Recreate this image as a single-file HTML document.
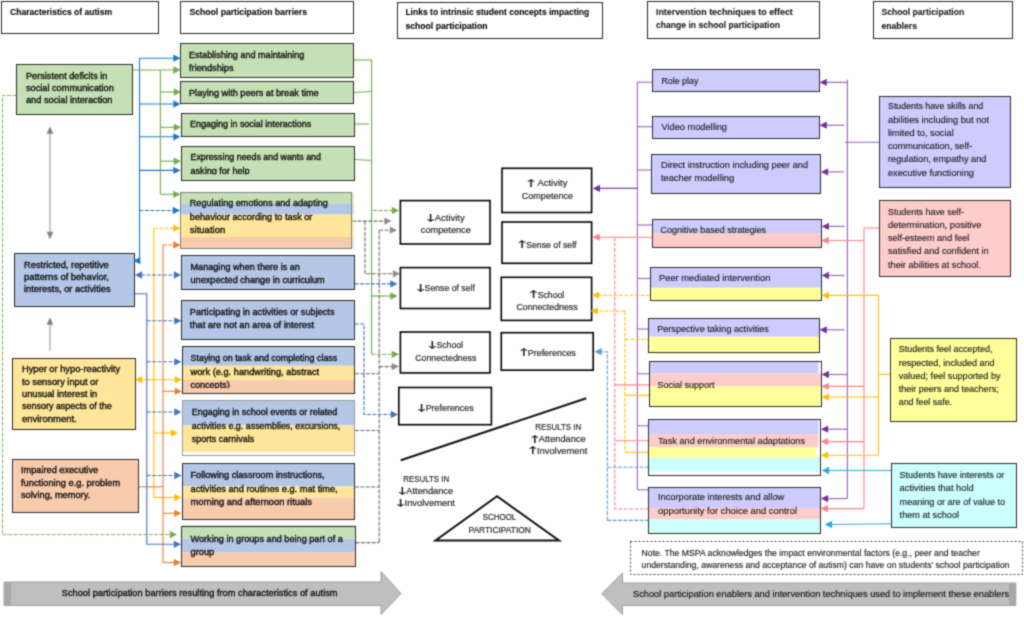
<!DOCTYPE html>
<html lang="en">
<head>
<meta charset="utf-8">
<title>Model of school participation and autism</title>
<style>
html,body{margin:0;padding:0;background:#fff;}
body{width:1024px;height:617px;overflow:hidden;}
svg{display:block;font-family:"Liberation Sans", "DejaVu Sans", sans-serif;}
svg text{white-space:pre;}
</style>
</head>
<body>
<svg width="1024" height="617" viewBox="0 0 1024 617">
<defs>
<filter id="soft" x="0" y="0" width="1024" height="617" filterUnits="userSpaceOnUse" color-interpolation-filters="sRGB">
<feConvolveMatrix order="3" kernelMatrix="0.04 0.11 0.04 0.11 0.40 0.11 0.04 0.11 0.04" divisor="1" edgeMode="duplicate" preserveAlpha="true"/>
</filter>
</defs>
<g filter="url(#soft)">
<rect x="0" y="0" width="1024" height="617" fill="#ffffff"/>
<rect x="1.50" y="1.50" width="157.00" height="32.00" fill="#fff" stroke="#262626" stroke-width="1"/>
<text x="10.00" y="15.00" font-size="9.0" font-weight="bold" textLength="102.0" lengthAdjust="spacingAndGlyphs" fill="#0a0a0a" stroke="#0a0a0a" stroke-width="0.12">Characteristics of autism</text>
<rect x="180.50" y="1.50" width="173.00" height="32.00" fill="#fff" stroke="#262626" stroke-width="1"/>
<text x="189.50" y="15.00" font-size="9.0" font-weight="bold" textLength="117.5" lengthAdjust="spacingAndGlyphs" fill="#0a0a0a" stroke="#0a0a0a" stroke-width="0.12">School participation barriers</text>
<rect x="397.50" y="2.50" width="205.00" height="36.00" fill="#fff" stroke="#262626" stroke-width="1"/>
<text x="405.40" y="15.40" font-size="9.0" font-weight="bold" textLength="183.9" lengthAdjust="spacingAndGlyphs" fill="#0a0a0a" stroke="#0a0a0a" stroke-width="0.12">Links to intrinsic student concepts impacting</text>
<text x="405.40" y="29.00" font-size="9.0" font-weight="bold" textLength="82.2" lengthAdjust="spacingAndGlyphs" fill="#0a0a0a" stroke="#0a0a0a" stroke-width="0.12">school participation</text>
<rect x="647.50" y="1.50" width="172.00" height="37.00" fill="#fff" stroke="#262626" stroke-width="1"/>
<text x="656.00" y="14.60" font-size="9.0" font-weight="bold" textLength="136.8" lengthAdjust="spacingAndGlyphs" fill="#1c1c1c" stroke="#1c1c1c" stroke-width="0.12">Intervention techniques to effect</text>
<text x="656.00" y="28.40" font-size="9.0" font-weight="bold" textLength="124.0" lengthAdjust="spacingAndGlyphs" fill="#1c1c1c" stroke="#1c1c1c" stroke-width="0.12">change in school participation</text>
<rect x="873.50" y="1.50" width="139.00" height="37.00" fill="#fff" stroke="#262626" stroke-width="1"/>
<text x="881.40" y="15.20" font-size="9.0" font-weight="bold" textLength="82.9" lengthAdjust="spacingAndGlyphs" fill="#1c1c1c" stroke="#1c1c1c" stroke-width="0.12">School participation</text>
<text x="881.40" y="29.20" font-size="9.0" font-weight="bold" textLength="35.6" lengthAdjust="spacingAndGlyphs" fill="#1c1c1c" stroke="#1c1c1c" stroke-width="0.12">enablers</text>
<polyline points="16.50,95.50 2.50,95.50 2.50,534.60 170.80,534.60" fill="none" stroke="#70AD47" stroke-width="0.9" stroke-dasharray="4 1.4"/>
<polygon points="177.00,534.60 169.80,530.95 169.80,538.25" fill="#70AD47"/>
<polyline points="139.50,58.20 139.50,259.00" fill="none" stroke="#1F78C8" stroke-width="1.12"/>
<polyline points="139.50,58.20 174.30,58.20" fill="none" stroke="#1F78C8" stroke-width="1.12"/>
<polygon points="180.50,58.20 173.30,54.55 173.30,61.85" fill="#1F78C8"/>
<polyline points="139.50,104.00 174.30,104.00" fill="none" stroke="#1F78C8" stroke-width="1.12"/>
<polygon points="180.50,104.00 173.30,100.35 173.30,107.65" fill="#1F78C8"/>
<polyline points="139.50,136.80 174.30,136.80" fill="none" stroke="#1F78C8" stroke-width="1.12"/>
<polygon points="180.50,136.80 173.30,133.15 173.30,140.45" fill="#1F78C8"/>
<polyline points="139.50,170.40 174.30,170.40" fill="none" stroke="#1F78C8" stroke-width="1.12"/>
<polygon points="180.50,170.40 173.30,166.75 173.30,174.05" fill="#1F78C8"/>
<polyline points="139.50,210.50 173.80,210.50" fill="none" stroke="#1F78C8" stroke-width="1.1" stroke-dasharray="4 1.4"/>
<polygon points="180.00,210.50 172.80,206.85 172.80,214.15" fill="#1F78C8"/>
<polyline points="132.60,70.00 174.30,70.00" fill="none" stroke="#70AD47" stroke-width="1.12"/>
<polygon points="180.50,70.00 173.30,66.35 173.30,73.65" fill="#70AD47"/>
<polyline points="160.40,70.00 160.40,194.30" fill="none" stroke="#70AD47" stroke-width="1.12"/>
<polyline points="160.40,92.00 174.80,92.00" fill="none" stroke="#70AD47" stroke-width="1.12"/>
<polygon points="181.00,92.00 173.80,88.35 173.80,95.65" fill="#70AD47"/>
<polyline points="160.40,127.30 174.80,127.30" fill="none" stroke="#70AD47" stroke-width="1.12"/>
<polygon points="181.00,127.30 173.80,123.65 173.80,130.95" fill="#70AD47"/>
<polyline points="160.40,161.20 174.80,161.20" fill="none" stroke="#70AD47" stroke-width="1.12"/>
<polygon points="181.00,161.20 173.80,157.55 173.80,164.85" fill="#70AD47"/>
<polyline points="160.40,194.30 174.30,194.30" fill="none" stroke="#70AD47" stroke-width="1.12"/>
<polygon points="180.50,194.30 173.30,190.65 173.30,197.95" fill="#70AD47"/>
<polyline points="153.80,228.20 153.80,497.50" fill="none" stroke="#FFC000" stroke-width="1.12"/>
<polyline points="153.80,228.20 174.30,228.20" fill="none" stroke="#FFC000" stroke-width="1.1" stroke-dasharray="4 1.4"/>
<polygon points="180.50,228.20 173.30,224.55 173.30,231.85" fill="#FFC000"/>
<polygon points="135.00,379.70 142.20,376.05 142.20,383.35" fill="#FFC000"/>
<polyline points="141.20,379.70 175.80,379.70" fill="none" stroke="#FFC000" stroke-width="1.12"/>
<polygon points="182.00,379.70 174.80,376.05 174.80,383.35" fill="#FFC000"/>
<polyline points="153.80,433.00 171.80,433.00" fill="none" stroke="#FFC000" stroke-width="1.12"/>
<polygon points="178.00,433.00 170.80,429.35 170.80,436.65" fill="#FFC000"/>
<polyline points="153.80,497.50 175.30,497.50" fill="none" stroke="#FFC000" stroke-width="1.12"/>
<polygon points="181.50,497.50 174.30,493.85 174.30,501.15" fill="#FFC000"/>
<polyline points="163.00,245.00 163.00,562.50" fill="none" stroke="#ED7D31" stroke-width="1.12"/>
<polyline points="163.00,245.00 174.30,245.00" fill="none" stroke="#ED7D31" stroke-width="1.1" stroke-dasharray="4 1.4"/>
<polygon points="180.50,245.00 173.30,241.35 173.30,248.65" fill="#ED7D31"/>
<polyline points="163.00,391.30 175.80,391.30" fill="none" stroke="#ED7D31" stroke-width="1.12"/>
<polygon points="182.00,391.30 174.80,387.65 174.80,394.95" fill="#ED7D31"/>
<polyline points="163.00,513.30 175.30,513.30" fill="none" stroke="#ED7D31" stroke-width="1.12"/>
<polygon points="181.50,513.30 174.30,509.65 174.30,516.95" fill="#ED7D31"/>
<polyline points="163.00,562.50 174.80,562.50" fill="none" stroke="#ED7D31" stroke-width="1.12"/>
<polygon points="181.00,562.50 173.80,558.85 173.80,566.15" fill="#ED7D31"/>
<polyline points="138.70,486.80 163.00,486.80" fill="none" stroke="#ED7D31" stroke-width="1.12"/>
<polyline points="134.80,293.80 146.80,293.80 146.80,544.30 174.80,544.30" fill="none" stroke="#4472C4" stroke-width="1.12"/>
<polygon points="181.00,544.30 173.80,540.65 173.80,547.95" fill="#4472C4"/>
<polyline points="146.80,320.80 175.30,320.80" fill="none" stroke="#4472C4" stroke-width="1.1" stroke-dasharray="4 1.4"/>
<polygon points="181.50,320.80 174.30,317.15 174.30,324.45" fill="#4472C4"/>
<polyline points="146.80,361.80 175.30,361.80" fill="none" stroke="#4472C4" stroke-width="1.1" stroke-dasharray="4 1.4"/>
<polygon points="181.50,361.80 174.30,358.15 174.30,365.45" fill="#4472C4"/>
<polyline points="146.80,412.00 175.30,412.00" fill="none" stroke="#4472C4" stroke-width="1.1" stroke-dasharray="4 1.4"/>
<polygon points="181.50,412.00 174.30,408.35 174.30,415.65" fill="#4472C4"/>
<polyline points="146.80,475.50 175.30,475.50" fill="none" stroke="#4472C4" stroke-width="1.1" stroke-dasharray="4 1.4"/>
<polygon points="181.50,475.50 174.30,471.85 174.30,479.15" fill="#4472C4"/>
<polygon points="135.00,275.00 142.20,271.35 142.20,278.65" fill="#4472C4"/>
<polyline points="141.20,275.00 174.80,275.00" fill="none" stroke="#4472C4" stroke-width="1.1" stroke-dasharray="4 1.4"/>
<polygon points="181.00,275.00 173.80,271.35 173.80,278.65" fill="#4472C4"/>
<polygon points="50.00,239.30 46.70,231.80 53.30,231.80" fill="#808080"/>
<polyline points="50.00,232.80 50.00,132.70" fill="none" stroke="#9a9a9a" stroke-width="1.1"/>
<polygon points="50.00,126.20 46.70,133.70 53.30,133.70" fill="#808080"/>
<polyline points="50.00,350.70 50.00,323.80" fill="none" stroke="#9a9a9a" stroke-width="1.1"/>
<polygon points="50.00,317.30 46.70,324.80 53.30,324.80" fill="#808080"/>
<polyline points="371.60,60.00 371.60,354.30" fill="none" stroke="#70AD47" stroke-width="1.12"/>
<polyline points="353.70,60.00 371.60,60.00" fill="none" stroke="#70AD47" stroke-width="1.12"/>
<polyline points="353.70,92.50 371.60,91.50" fill="none" stroke="#70AD47" stroke-width="1.12"/>
<polyline points="354.70,124.00 369.00,124.00" fill="none" stroke="#70AD47" stroke-width="1.12"/>
<polyline points="354.70,159.50 371.60,160.50" fill="none" stroke="#70AD47" stroke-width="1.12"/>
<polyline points="373.00,210.50 392.80,210.50" fill="none" stroke="#70AD47" stroke-width="1.1" stroke-dasharray="4 1.4"/>
<polygon points="399.00,210.50 391.80,206.85 391.80,214.15" fill="#70AD47"/>
<polyline points="371.60,296.00 391.30,296.00" fill="none" stroke="#70AD47" stroke-width="1.12"/>
<polygon points="397.50,296.00 390.30,292.35 390.30,299.65" fill="#70AD47"/>
<polyline points="371.60,354.30 392.80,354.30" fill="none" stroke="#70AD47" stroke-width="1.1" stroke-dasharray="4 1.4"/>
<polygon points="399.00,354.30 391.80,350.65 391.80,357.95" fill="#70AD47"/>
<polyline points="352.00,221.10 385.30,221.10" fill="none" stroke="#6a6a6a" stroke-width="1.1" stroke-dasharray="4 1.4"/>
<polygon points="391.50,221.10 384.30,217.45 384.30,224.75" fill="#8c8c8c"/>
<polyline points="365.00,221.10 365.00,273.80 393.80,273.80" fill="none" stroke="#6a6a6a" stroke-width="1.1" stroke-dasharray="4 1.4"/>
<polygon points="400.00,273.80 392.80,270.15 392.80,277.45" fill="#8c8c8c"/>
<polyline points="379.20,230.20 379.20,542.60" fill="none" stroke="#6a6a6a" stroke-width="1.1" stroke-dasharray="4 1.4"/>
<polyline points="379.20,230.20 390.80,230.20" fill="none" stroke="#6a6a6a" stroke-width="1.1" stroke-dasharray="4 1.4"/>
<polygon points="397.00,230.20 389.80,226.55 389.80,233.85" fill="#8c8c8c"/>
<polyline points="379.20,366.60 392.80,366.60" fill="none" stroke="#6a6a6a" stroke-width="1.1" stroke-dasharray="4 1.4"/>
<polygon points="399.00,366.60 391.80,362.95 391.80,370.25" fill="#8c8c8c"/>
<polyline points="355.00,373.70 379.20,373.70" fill="none" stroke="#6a6a6a" stroke-width="1.1" stroke-dasharray="4 1.4"/>
<polyline points="355.00,430.50 379.20,430.50" fill="none" stroke="#6a6a6a" stroke-width="1.1" stroke-dasharray="4 1.4"/>
<polyline points="355.00,487.00 379.20,487.00" fill="none" stroke="#6a6a6a" stroke-width="1.1" stroke-dasharray="4 1.4"/>
<polyline points="355.50,542.60 379.20,542.60" fill="none" stroke="#6a6a6a" stroke-width="1.1" stroke-dasharray="4 1.4"/>
<polyline points="354.70,283.90 391.30,283.90" fill="none" stroke="#4472C4" stroke-width="1.1" stroke-dasharray="4 1.4"/>
<polygon points="397.50,283.90 390.30,280.25 390.30,287.55" fill="#4472C4"/>
<polyline points="354.70,324.00 364.00,324.00 364.00,414.50 391.80,414.50" fill="none" stroke="#4472C4" stroke-width="1.1" stroke-dasharray="4 1.4"/>
<polygon points="398.00,414.50 390.80,410.85 390.80,418.15" fill="#4472C4"/>
<rect x="16.50" y="64.50" width="116.00" height="50.00" fill="#C5E0B4" stroke="#2b2b2b" stroke-width="1"/>
<text x="26.00" y="78.50" font-size="9.0" textLength="81.4" lengthAdjust="spacingAndGlyphs" fill="#0a0a0a" stroke="#0a0a0a" stroke-width="0.32">Persistent deficits in</text>
<text x="26.00" y="91.20" font-size="9.0" textLength="87.8" lengthAdjust="spacingAndGlyphs" fill="#0a0a0a" stroke="#0a0a0a" stroke-width="0.32">social communication</text>
<text x="26.00" y="102.90" font-size="9.0" textLength="86.5" lengthAdjust="spacingAndGlyphs" fill="#0a0a0a" stroke="#0a0a0a" stroke-width="0.32">and social interaction</text>
<rect x="14.50" y="253.50" width="120.00" height="53.00" fill="#B4C7E7" stroke="#2b2b2b" stroke-width="1"/>
<text x="24.00" y="267.60" font-size="9.0" textLength="84.8" lengthAdjust="spacingAndGlyphs" fill="#0a0a0a" stroke="#0a0a0a" stroke-width="0.32">Restricted, repetitive</text>
<text x="24.00" y="279.70" font-size="9.0" textLength="84.9" lengthAdjust="spacingAndGlyphs" fill="#0a0a0a" stroke="#0a0a0a" stroke-width="0.32">patterns of behavior,</text>
<text x="24.00" y="291.50" font-size="9.0" textLength="86.6" lengthAdjust="spacingAndGlyphs" fill="#0a0a0a" stroke="#0a0a0a" stroke-width="0.32">interests, or activities</text>
<rect x="12.50" y="358.50" width="123.00" height="71.00" fill="#FFE699" stroke="#2b2b2b" stroke-width="1"/>
<text x="22.00" y="372.20" font-size="9.0" textLength="98.1" lengthAdjust="spacingAndGlyphs" fill="#0a0a0a" stroke="#0a0a0a" stroke-width="0.32">Hyper or hypo-reactivity</text>
<text x="22.00" y="384.80" font-size="9.0" textLength="76.3" lengthAdjust="spacingAndGlyphs" fill="#0a0a0a" stroke="#0a0a0a" stroke-width="0.32">to sensory input or</text>
<text x="22.00" y="396.60" font-size="9.0" textLength="75.1" lengthAdjust="spacingAndGlyphs" fill="#0a0a0a" stroke="#0a0a0a" stroke-width="0.32">unusual interest in</text>
<text x="22.00" y="408.70" font-size="9.0" textLength="89.7" lengthAdjust="spacingAndGlyphs" fill="#0a0a0a" stroke="#0a0a0a" stroke-width="0.32">sensory aspects of the</text>
<text x="22.00" y="421.50" font-size="9.0" textLength="54.7" lengthAdjust="spacingAndGlyphs" fill="#0a0a0a" stroke="#0a0a0a" stroke-width="0.32">environment.</text>
<rect x="12.50" y="459.50" width="126.00" height="53.00" fill="#F8CBAD" stroke="#2b2b2b" stroke-width="1"/>
<text x="21.00" y="473.40" font-size="9.0" textLength="77.1" lengthAdjust="spacingAndGlyphs" fill="#0a0a0a" stroke="#0a0a0a" stroke-width="0.32">Impaired executive</text>
<text x="21.00" y="485.60" font-size="9.0" textLength="99.2" lengthAdjust="spacingAndGlyphs" fill="#0a0a0a" stroke="#0a0a0a" stroke-width="0.32">functioning e.g. problem</text>
<text x="21.00" y="497.70" font-size="9.0" textLength="69.2" lengthAdjust="spacingAndGlyphs" fill="#0a0a0a" stroke="#0a0a0a" stroke-width="0.32">solving, memory.</text>
<polygon points="133.20,260.70 140.40,257.05 140.40,264.35" fill="#1F78C8"/>
<rect x="180.50" y="43.50" width="173.00" height="34.00" fill="#C5E0B4" stroke="#2b2b2b" stroke-width="1"/>
<text x="189.00" y="57.50" font-size="9.0" textLength="115.4" lengthAdjust="spacingAndGlyphs" fill="#0a0a0a" stroke="#0a0a0a" stroke-width="0.32">Establishing and maintaining</text>
<text x="189.00" y="70.70" font-size="9.0" textLength="44.6" lengthAdjust="spacingAndGlyphs" fill="#0a0a0a" stroke="#0a0a0a" stroke-width="0.32">friendships</text>
<rect x="180.50" y="81.50" width="173.00" height="22.00" fill="#C5E0B4" stroke="#2b2b2b" stroke-width="1"/>
<text x="189.00" y="96.00" font-size="9.0" textLength="129.7" lengthAdjust="spacingAndGlyphs" fill="#0a0a0a" stroke="#0a0a0a" stroke-width="0.32">Playing with peers at break time</text>
<rect x="181.50" y="113.50" width="173.00" height="23.00" fill="#C5E0B4" stroke="#2b2b2b" stroke-width="1"/>
<text x="190.00" y="127.40" font-size="9.0" textLength="121.2" lengthAdjust="spacingAndGlyphs" fill="#0a0a0a" stroke="#0a0a0a" stroke-width="0.32">Engaging in social interactions</text>
<rect x="181.50" y="146.50" width="173.00" height="34.00" fill="#C5E0B4" stroke="#2b2b2b" stroke-width="1"/>
<text x="190.50" y="160.20" font-size="9.0" textLength="130.4" lengthAdjust="spacingAndGlyphs" fill="#0a0a0a" stroke="#0a0a0a" stroke-width="0.32">Expressing needs and wants and</text>
<clipPath id="c2"><rect x="185" y="162" width="160" height="12.4"/></clipPath><g clip-path="url(#c2)">
<text x="190.50" y="173.50" font-size="9.0" textLength="59.1" lengthAdjust="spacingAndGlyphs" fill="#0a0a0a" stroke="#0a0a0a" stroke-width="0.32">asking for help</text>
</g>
<g opacity="0.55">
<rect x="351.80" y="192.60" width="2.40" height="11.40" fill="#C5E0B4"/>
<rect x="351.80" y="204.00" width="2.40" height="10.60" fill="#B4C7E7"/>
<rect x="351.80" y="214.60" width="2.40" height="22.40" fill="#FFE699"/>
<rect x="351.80" y="237.00" width="2.40" height="11.60" fill="#F8CBAD"/>
</g>
<rect x="180.50" y="192.00" width="171.30" height="12.00" fill="#C5E0B4"/>
<rect x="180.50" y="204.00" width="171.30" height="10.60" fill="#B4C7E7"/>
<rect x="180.50" y="214.60" width="171.30" height="22.40" fill="#FFE699"/>
<rect x="180.50" y="237.00" width="171.30" height="11.30" fill="#F8CBAD"/>
<rect x="180.50" y="192.50" width="171.00" height="56.00" fill="none" stroke="#808080" stroke-width="1"/>
<text x="189.80" y="206.00" font-size="9.0" textLength="138.0" lengthAdjust="spacingAndGlyphs" fill="#0a0a0a" stroke="#0a0a0a" stroke-width="0.32">Regulating emotions and adapting</text>
<text x="189.80" y="219.70" font-size="9.0" textLength="122.6" lengthAdjust="spacingAndGlyphs" fill="#0a0a0a" stroke="#0a0a0a" stroke-width="0.32">behaviour according to task or</text>
<text x="189.80" y="233.20" font-size="9.0" textLength="35.5" lengthAdjust="spacingAndGlyphs" fill="#0a0a0a" stroke="#0a0a0a" stroke-width="0.32">situation</text>
<rect x="181.50" y="255.50" width="173.00" height="34.00" fill="#B4C7E7" stroke="#2b2b2b" stroke-width="1"/>
<text x="190.50" y="269.70" font-size="9.0" textLength="109.4" lengthAdjust="spacingAndGlyphs" fill="#0a0a0a" stroke="#0a0a0a" stroke-width="0.32">Managing when there is an</text>
<text x="190.50" y="283.00" font-size="9.0" textLength="134.1" lengthAdjust="spacingAndGlyphs" fill="#0a0a0a" stroke="#0a0a0a" stroke-width="0.32">unexpected change in curriculum</text>
<rect x="181.50" y="300.50" width="173.00" height="39.00" fill="#B4C7E7" stroke="#2b2b2b" stroke-width="1"/>
<text x="189.80" y="314.70" font-size="9.0" textLength="144.7" lengthAdjust="spacingAndGlyphs" fill="#0a0a0a" stroke="#0a0a0a" stroke-width="0.32">Participating in activities or subjects</text>
<text x="189.80" y="328.20" font-size="9.0" textLength="124.4" lengthAdjust="spacingAndGlyphs" fill="#0a0a0a" stroke="#0a0a0a" stroke-width="0.32">that are not an area of interest</text>
<rect x="182.30" y="346.80" width="172.40" height="19.00" fill="#B4C7E7"/>
<rect x="182.30" y="365.80" width="172.40" height="14.20" fill="#FFE699"/>
<rect x="182.30" y="380.00" width="172.40" height="13.00" fill="#F8CBAD"/>
<rect x="182.50" y="346.50" width="172.00" height="47.00" fill="none" stroke="#2b2b2b" stroke-width="1"/>
<text x="190.50" y="361.20" font-size="9.0" textLength="146.8" lengthAdjust="spacingAndGlyphs" fill="#0a0a0a" stroke="#0a0a0a" stroke-width="0.32">Staying on task and completing class</text>
<text x="190.50" y="374.70" font-size="9.0" textLength="128.7" lengthAdjust="spacingAndGlyphs" fill="#0a0a0a" stroke="#0a0a0a" stroke-width="0.32">work (e.g. handwriting, abstract</text>
<clipPath id="c1"><rect x="185" y="376" width="160" height="12.3"/></clipPath><g clip-path="url(#c1)">
<text x="190.50" y="388.20" font-size="9.0" textLength="39.2" lengthAdjust="spacingAndGlyphs" fill="#0a0a0a" stroke="#0a0a0a" stroke-width="0.32">concepts)</text>
</g>
<rect x="182.30" y="400.50" width="172.40" height="25.00" fill="#B4C7E7"/>
<rect x="182.30" y="425.50" width="172.40" height="26.70" fill="#FFE699"/>
<rect x="182.30" y="452.20" width="172.40" height="3.10" fill="#ffffff"/>
<rect x="182.50" y="400.50" width="172.00" height="55.00" fill="none" stroke="#9a9a9a" stroke-width="1"/>
<text x="191.80" y="415.00" font-size="9.0" textLength="145.4" lengthAdjust="spacingAndGlyphs" fill="#0a0a0a" stroke="#0a0a0a" stroke-width="0.32">Engaging in school events or related</text>
<text x="191.80" y="428.50" font-size="9.0" textLength="148.5" lengthAdjust="spacingAndGlyphs" fill="#0a0a0a" stroke="#0a0a0a" stroke-width="0.32">activities e.g. assemblies, excursions,</text>
<text x="191.80" y="441.70" font-size="9.0" textLength="62.5" lengthAdjust="spacingAndGlyphs" fill="#0a0a0a" stroke="#0a0a0a" stroke-width="0.32">sports carnivals</text>
<rect x="182.30" y="463.80" width="172.40" height="22.70" fill="#B4C7E7"/>
<rect x="182.30" y="486.50" width="172.40" height="11.00" fill="#FFE699"/>
<rect x="182.30" y="497.50" width="172.40" height="22.00" fill="#F8CBAD"/>
<rect x="182.50" y="463.50" width="172.00" height="56.00" fill="none" stroke="#2b2b2b" stroke-width="1"/>
<text x="190.50" y="478.20" font-size="9.0" textLength="134.1" lengthAdjust="spacingAndGlyphs" fill="#0a0a0a" stroke="#0a0a0a" stroke-width="0.32">Following classroom instructions,</text>
<text x="190.50" y="491.50" font-size="9.0" textLength="147.2" lengthAdjust="spacingAndGlyphs" fill="#0a0a0a" stroke="#0a0a0a" stroke-width="0.32">activities and routines e.g. mat time,</text>
<text x="190.50" y="504.70" font-size="9.0" textLength="121.4" lengthAdjust="spacingAndGlyphs" fill="#0a0a0a" stroke="#0a0a0a" stroke-width="0.32">morning and afternoon rituals</text>
<rect x="182" y="525.4" width="173.5" height="2" fill="#C5E0B4"/>
<rect x="181.30" y="526.80" width="174.20" height="11.80" fill="#C5E0B4"/>
<rect x="181.30" y="538.60" width="174.20" height="13.90" fill="#B4C7E7"/>
<rect x="181.30" y="552.50" width="174.20" height="14.00" fill="#F8CBAD"/>
<rect x="181.50" y="526.50" width="174.00" height="40.00" fill="none" stroke="#2b2b2b" stroke-width="1"/>
<text x="190.50" y="541.50" font-size="9.0" textLength="152.3" lengthAdjust="spacingAndGlyphs" fill="#0a0a0a" stroke="#0a0a0a" stroke-width="0.32">Working in groups and being part of a</text>
<text x="190.50" y="554.70" font-size="9.0" textLength="23.8" lengthAdjust="spacingAndGlyphs" fill="#0a0a0a" stroke="#0a0a0a" stroke-width="0.32">group</text>
<rect x="400.40" y="200.60" width="89.60" height="43.40" fill="#fff" stroke="#000" stroke-width="1.6"/>
<g transform="translate(427.03,221.00) scale(1.75,1)"><text x="-2.26" y="0" font-size="8.7" font-weight="bold" font-family="'Noto Sans CJK SC', 'DejaVu Sans', sans-serif" fill="#1a1a1a">↓</text></g>
<text x="434.73" y="220.70" font-size="9.0" textLength="30.0" lengthAdjust="spacingAndGlyphs" fill="#2a2a2a" stroke="#2a2a2a" stroke-width="0.2">Activity</text>
<text x="420.80" y="233.20" font-size="9.0" textLength="50.0" lengthAdjust="spacingAndGlyphs" fill="#2a2a2a" stroke="#2a2a2a" stroke-width="0.2">competence</text>
<rect x="400.40" y="267.60" width="89.60" height="40.90" fill="#fff" stroke="#000" stroke-width="1.6"/>
<g transform="translate(416.91,291.00) scale(1.75,1)"><text x="-2.26" y="0" font-size="8.7" font-weight="bold" font-family="'Noto Sans CJK SC', 'DejaVu Sans', sans-serif" fill="#1a1a1a">↓</text></g>
<text x="424.61" y="290.70" font-size="9.0" textLength="50.3" lengthAdjust="spacingAndGlyphs" fill="#2a2a2a" stroke="#2a2a2a" stroke-width="0.2">Sense of self</text>
<rect x="400.40" y="332.00" width="89.60" height="40.90" fill="#fff" stroke="#000" stroke-width="1.6"/>
<g transform="translate(428.73,348.00) scale(1.75,1)"><text x="-2.26" y="0" font-size="8.7" font-weight="bold" font-family="'Noto Sans CJK SC', 'DejaVu Sans', sans-serif" fill="#1a1a1a">↓</text></g>
<text x="436.43" y="347.70" font-size="9.0" textLength="26.6" lengthAdjust="spacingAndGlyphs" fill="#2a2a2a" stroke="#2a2a2a" stroke-width="0.2">School</text>
<text x="415.14" y="360.70" font-size="9.0" textLength="61.3" lengthAdjust="spacingAndGlyphs" fill="#2a2a2a" stroke="#2a2a2a" stroke-width="0.2">Connectedness</text>
<rect x="398.80" y="387.50" width="92.60" height="37.20" fill="#fff" stroke="#000" stroke-width="1.6"/>
<g transform="translate(417.95,411.20) scale(1.75,1)"><text x="-2.26" y="0" font-size="8.7" font-weight="bold" font-family="'Noto Sans CJK SC', 'DejaVu Sans', sans-serif" fill="#1a1a1a">↓</text></g>
<text x="425.65" y="410.90" font-size="9.0" textLength="48.0" lengthAdjust="spacingAndGlyphs" fill="#2a2a2a" stroke="#2a2a2a" stroke-width="0.2">Preferences</text>
<rect x="502.00" y="168.30" width="89.60" height="44.20" fill="#fff" stroke="#000" stroke-width="1.6"/>
<g transform="translate(527.51,186.50) scale(1.75,1)"><text x="-2.26" y="0" font-size="8.7" font-weight="bold" font-family="'Noto Sans CJK SC', 'DejaVu Sans', sans-serif" fill="#1a1a1a">↑</text></g>
<text x="537.45" y="186.20" font-size="9.0" textLength="30.0" lengthAdjust="spacingAndGlyphs" fill="#2a2a2a" stroke="#2a2a2a" stroke-width="0.2">Activity</text>
<text x="521.85" y="198.50" font-size="9.0" textLength="51.1" lengthAdjust="spacingAndGlyphs" fill="#2a2a2a" stroke="#2a2a2a" stroke-width="0.2">Competence</text>
<rect x="502.00" y="222.00" width="89.60" height="41.30" fill="#fff" stroke="#000" stroke-width="1.6"/>
<g transform="translate(518.51,247.80) scale(1.75,1)"><text x="-2.26" y="0" font-size="8.7" font-weight="bold" font-family="'Noto Sans CJK SC', 'DejaVu Sans', sans-serif" fill="#1a1a1a">↑</text></g>
<text x="526.21" y="247.50" font-size="9.0" textLength="50.3" lengthAdjust="spacingAndGlyphs" fill="#2a2a2a" stroke="#2a2a2a" stroke-width="0.2">Sense of self</text>
<rect x="501.30" y="277.30" width="90.30" height="43.10" fill="#fff" stroke="#000" stroke-width="1.6"/>
<g transform="translate(529.98,297.80) scale(1.75,1)"><text x="-2.26" y="0" font-size="8.7" font-weight="bold" font-family="'Noto Sans CJK SC', 'DejaVu Sans', sans-serif" fill="#1a1a1a">↑</text></g>
<text x="537.68" y="297.50" font-size="9.0" textLength="26.6" lengthAdjust="spacingAndGlyphs" fill="#2a2a2a" stroke="#2a2a2a" stroke-width="0.2">School</text>
<text x="516.39" y="309.90" font-size="9.0" textLength="61.3" lengthAdjust="spacingAndGlyphs" fill="#2a2a2a" stroke="#2a2a2a" stroke-width="0.2">Connectedness</text>
<rect x="501.30" y="332.70" width="91.90" height="37.50" fill="#fff" stroke="#000" stroke-width="1.6"/>
<g transform="translate(520.10,356.20) scale(1.75,1)"><text x="-2.26" y="0" font-size="8.7" font-weight="bold" font-family="'Noto Sans CJK SC', 'DejaVu Sans', sans-serif" fill="#1a1a1a">↑</text></g>
<text x="527.80" y="355.90" font-size="9.0" textLength="48.0" lengthAdjust="spacingAndGlyphs" fill="#2a2a2a" stroke="#2a2a2a" stroke-width="0.2">Preferences</text>
<line x1="400.8" y1="460.3" x2="586.3" y2="398.2" stroke="#111" stroke-width="2"/>
<polygon points="497,496.3 435.5,540.5 559,540.5" fill="#fff" stroke="#111" stroke-width="2"/>
<text x="482.87" y="519.90" font-size="9.0" textLength="33.3" lengthAdjust="spacingAndGlyphs" fill="#2a2a2a" stroke="#2a2a2a" stroke-width="0.2">SCHOOL</text>
<text x="468.49" y="532.50" font-size="9.0" textLength="62.4" lengthAdjust="spacingAndGlyphs" fill="#2a2a2a" stroke="#2a2a2a" stroke-width="0.2">PARTICIPATION</text>
<text x="535.32" y="429.90" font-size="9.0" textLength="45.8" lengthAdjust="spacingAndGlyphs" fill="#2a2a2a" stroke="#2a2a2a" stroke-width="0.2">RESULTS IN</text>
<g transform="translate(531.18,442.50) scale(1.75,1)"><text x="-2.26" y="0" font-size="8.7" font-weight="bold" font-family="'Noto Sans CJK SC', 'DejaVu Sans', sans-serif" fill="#1a1a1a">↑</text></g>
<text x="538.88" y="442.20" font-size="9.0" textLength="46.7" lengthAdjust="spacingAndGlyphs" fill="#2a2a2a" stroke="#2a2a2a" stroke-width="0.2">Attendance</text>
<g transform="translate(529.25,454.10) scale(1.75,1)"><text x="-2.26" y="0" font-size="8.7" font-weight="bold" font-family="'Noto Sans CJK SC', 'DejaVu Sans', sans-serif" fill="#1a1a1a">↑</text></g>
<text x="536.95" y="453.80" font-size="9.0" textLength="50.4" lengthAdjust="spacingAndGlyphs" fill="#2a2a2a" stroke="#2a2a2a" stroke-width="0.2">Involvement</text>
<text x="403.32" y="481.70" font-size="9.0" textLength="45.8" lengthAdjust="spacingAndGlyphs" fill="#2a2a2a" stroke="#2a2a2a" stroke-width="0.2">RESULTS IN</text>
<g transform="translate(398.68,494.30) scale(1.75,1)"><text x="-2.26" y="0" font-size="8.7" font-weight="bold" font-family="'Noto Sans CJK SC', 'DejaVu Sans', sans-serif" fill="#1a1a1a">↓</text></g>
<text x="406.38" y="494.00" font-size="9.0" textLength="46.7" lengthAdjust="spacingAndGlyphs" fill="#2a2a2a" stroke="#2a2a2a" stroke-width="0.2">Attendance</text>
<g transform="translate(396.85,506.30) scale(1.75,1)"><text x="-2.26" y="0" font-size="8.7" font-weight="bold" font-family="'Noto Sans CJK SC', 'DejaVu Sans', sans-serif" fill="#1a1a1a">↓</text></g>
<text x="404.55" y="506.00" font-size="9.0" textLength="50.4" lengthAdjust="spacingAndGlyphs" fill="#2a2a2a" stroke="#2a2a2a" stroke-width="0.2">Involvement</text>
<polyline points="637.40,81.70 637.40,489.80" fill="none" stroke="#9A66C4" stroke-width="1.1"/>
<polyline points="637.40,82.20 652.90,82.20" fill="none" stroke="#9A66C4" stroke-width="1.12"/>
<polyline points="637.40,126.70 652.00,126.70" fill="none" stroke="#9A66C4" stroke-width="1.12"/>
<polyline points="637.40,170.00 651.00,170.00" fill="none" stroke="#9A66C4" stroke-width="1.12"/>
<polyline points="637.40,225.00 652.00,225.00" fill="none" stroke="#9A66C4" stroke-width="1.12"/>
<polyline points="637.40,278.50 650.30,278.50" fill="none" stroke="#9A66C4" stroke-width="1.12"/>
<polyline points="637.40,329.00 648.50,329.00" fill="none" stroke="#9A66C4" stroke-width="1.12"/>
<polyline points="637.40,373.80 649.40,373.80" fill="none" stroke="#9A66C4" stroke-width="1.12"/>
<polyline points="637.40,425.80 648.50,425.80" fill="none" stroke="#9A66C4" stroke-width="1.12"/>
<polyline points="637.40,489.80 648.50,489.80" fill="none" stroke="#9A66C4" stroke-width="1.12"/>
<polyline points="637.40,188.40 599.00,188.40" fill="none" stroke="#7E45AC" stroke-width="1.12"/>
<polygon points="592.80,188.40 600.00,184.75 600.00,192.05" fill="#7030A0"/>
<polyline points="847.40,79.70 847.40,498.60" fill="none" stroke="#9560BC" stroke-width="1.1"/>
<polyline points="847.60,82.30 825.80,82.30" fill="none" stroke="#9560BC" stroke-width="1.12"/>
<polygon points="819.60,82.30 826.80,78.65 826.80,85.95" fill="#7030A0"/>
<polyline points="844.40,125.20 825.80,125.20" fill="none" stroke="#9560BC" stroke-width="1.12"/>
<polygon points="819.60,125.20 826.80,121.55 826.80,128.85" fill="#7030A0"/>
<polyline points="843.80,171.90 827.10,171.90" fill="none" stroke="#9560BC" stroke-width="1.12"/>
<polygon points="820.90,171.90 828.10,168.25 828.10,175.55" fill="#7030A0"/>
<polyline points="844.60,226.40 827.90,226.40" fill="none" stroke="#9560BC" stroke-width="1.12"/>
<polygon points="821.70,226.40 828.90,222.75 828.90,230.05" fill="#7030A0"/>
<polyline points="844.60,275.50 827.90,275.50" fill="none" stroke="#9560BC" stroke-width="1.12"/>
<polygon points="821.70,275.50 828.90,271.85 828.90,279.15" fill="#7030A0"/>
<polyline points="844.60,329.80 825.80,329.80" fill="none" stroke="#9560BC" stroke-width="1.12"/>
<polygon points="819.60,329.80 826.80,326.15 826.80,333.45" fill="#7030A0"/>
<polyline points="847.40,374.50 827.90,374.50" fill="none" stroke="#9560BC" stroke-width="1.12"/>
<polygon points="821.70,374.50 828.90,370.85 828.90,378.15" fill="#7030A0"/>
<polyline points="847.60,429.20 827.10,429.20" fill="none" stroke="#9560BC" stroke-width="1.12"/>
<polygon points="820.90,429.20 828.10,425.55 828.10,432.85" fill="#7030A0"/>
<polyline points="847.60,498.60 827.10,498.60" fill="none" stroke="#9560BC" stroke-width="1.12"/>
<polygon points="820.90,498.60 828.10,494.95 828.10,502.25" fill="#7030A0"/>
<polyline points="844.50,142.20 880.00,142.20" fill="none" stroke="#9560BC" stroke-width="1.12"/>
<polyline points="880.00,228.00 864.00,228.00 864.00,508.50" fill="none" stroke="#FF8088" stroke-width="1.12"/>
<polyline points="864.00,240.50 827.70,240.50" fill="none" stroke="#FF8088" stroke-width="1.12"/>
<polygon points="821.50,240.50 828.70,236.85 828.70,244.15" fill="#FF8088"/>
<polyline points="864.00,386.40 827.70,386.40" fill="none" stroke="#FF8088" stroke-width="1.12"/>
<polygon points="821.50,386.40 828.70,382.75 828.70,390.05" fill="#FF8088"/>
<polyline points="864.00,441.60 826.90,441.60" fill="none" stroke="#FF8088" stroke-width="1.12"/>
<polygon points="820.70,441.60 827.90,437.95 827.90,445.25" fill="#FF8088"/>
<polyline points="864.00,508.60 826.90,508.60" fill="none" stroke="#FF8088" stroke-width="1.12"/>
<polygon points="820.70,508.60 827.90,504.95 827.90,512.25" fill="#FF8088"/>
<polyline points="878.40,295.40 878.40,455.20" fill="none" stroke="#FFC000" stroke-width="1.12"/>
<polyline points="878.40,374.30 890.00,374.30" fill="none" stroke="#FFC000" stroke-width="1.12"/>
<polyline points="878.40,295.40 827.90,295.40" fill="none" stroke="#FFC000" stroke-width="1.12"/>
<polygon points="821.70,295.40 828.90,291.75 828.90,299.05" fill="#FFC000"/>
<polyline points="878.40,397.00 827.90,397.00" fill="none" stroke="#FFC000" stroke-width="1.12"/>
<polygon points="821.70,397.00 828.90,393.35 828.90,400.65" fill="#FFC000"/>
<polyline points="878.40,455.20 827.10,455.20" fill="none" stroke="#FFC000" stroke-width="1.12"/>
<polygon points="820.90,455.20 828.10,451.55 828.10,458.85" fill="#FFC000"/>
<polyline points="891.00,470.50 828.10,470.50" fill="none" stroke="#29ABE2" stroke-width="1.12"/>
<polygon points="821.90,470.50 829.10,466.85 829.10,474.15" fill="#29ABE2"/>
<polyline points="891.00,523.70 831.10,524.50" fill="none" stroke="#29ABE2" stroke-width="1.12"/>
<polygon points="824.90,524.50 832.10,520.85 832.10,528.15" fill="#29ABE2"/>
<polyline points="652.00,237.20 598.60,237.20" fill="none" stroke="#FF8088" stroke-width="1.12"/>
<polygon points="592.40,237.20 599.60,233.55 599.60,240.85" fill="#FF8088"/>
<polyline points="614.80,237.20 614.80,509.00 648.60,509.00" fill="none" stroke="#FF8088" stroke-width="1.1" stroke-dasharray="4 1.4"/>
<polyline points="614.80,384.90 649.40,384.90" fill="none" stroke="#FF8088" stroke-width="1.12"/>
<polyline points="614.80,440.70 648.50,440.70" fill="none" stroke="#FF8088" stroke-width="1.12"/>
<polyline points="649.80,295.20 598.20,295.20" fill="none" stroke="#FFC000" stroke-width="1.1" stroke-dasharray="4 1.4"/>
<polygon points="592.00,295.20 599.20,291.55 599.20,298.85" fill="#FFC000"/>
<polyline points="625.00,311.00 596.80,311.00" fill="none" stroke="#FFC000" stroke-width="1.1" stroke-dasharray="4 1.4"/>
<polygon points="590.60,311.00 597.80,307.35 597.80,314.65" fill="#FFC000"/>
<polyline points="625.00,311.00 625.00,452.30" fill="none" stroke="#FFC000" stroke-width="1.1" stroke-dasharray="4 1.4"/>
<polyline points="625.00,339.30 648.50,339.30" fill="none" stroke="#FFC000" stroke-width="1.1" stroke-dasharray="4 1.4"/>
<polyline points="625.00,395.40 649.40,395.40" fill="none" stroke="#FFC000" stroke-width="1.12"/>
<polyline points="625.00,452.30 648.50,452.30" fill="none" stroke="#FFC000" stroke-width="1.12"/>
<polyline points="607.30,520.40 607.30,351.70 600.70,351.70" fill="none" stroke="#5B9BD5" stroke-width="1.1" stroke-dasharray="4 1.4"/>
<polygon points="594.50,351.70 601.70,348.05 601.70,355.35" fill="#5B9BD5"/>
<polyline points="607.30,467.30 648.50,467.30" fill="none" stroke="#5B9BD5" stroke-width="1.1" stroke-dasharray="4 1.4"/>
<polyline points="607.30,520.40 648.50,520.40" fill="none" stroke="#5B9BD5" stroke-width="1.1" stroke-dasharray="4 1.4"/>
<rect x="652.50" y="69.50" width="167.00" height="22.00" fill="#CCCCFF" stroke="#2b2b2b" stroke-width="1"/>
<text x="661.50" y="83.90" font-size="9.0" textLength="36.8" lengthAdjust="spacingAndGlyphs" fill="#1c1c1c" stroke="#1c1c1c" stroke-width="0.14">Role play</text>
<rect x="652.50" y="116.50" width="167.00" height="22.00" fill="#CCCCFF" stroke="#2b2b2b" stroke-width="1"/>
<text x="661.50" y="129.90" font-size="9.0" textLength="65.5" lengthAdjust="spacingAndGlyphs" fill="#1c1c1c" stroke="#1c1c1c" stroke-width="0.14">Video modelling</text>
<rect x="651.50" y="154.50" width="169.00" height="39.00" fill="#CCCCFF" stroke="#2b2b2b" stroke-width="1"/>
<text x="661.00" y="168.00" font-size="9.0" textLength="147.1" lengthAdjust="spacingAndGlyphs" fill="#1c1c1c" stroke="#1c1c1c" stroke-width="0.14">Direct instruction including peer and</text>
<text x="661.00" y="181.00" font-size="9.0" textLength="73.1" lengthAdjust="spacingAndGlyphs" fill="#1c1c1c" stroke="#1c1c1c" stroke-width="0.14">teacher modelling</text>
<rect x="652.00" y="219.00" width="169.50" height="14.00" fill="#CCCCFF"/>
<rect x="652.00" y="233.00" width="169.50" height="14.90" fill="#FFCCCC"/>
<rect x="652.50" y="219.50" width="169.00" height="28.00" fill="none" stroke="#2b2b2b" stroke-width="1"/>
<text x="660.50" y="233.00" font-size="9.0" textLength="105.6" lengthAdjust="spacingAndGlyphs" fill="#1c1c1c" stroke="#1c1c1c" stroke-width="0.14">Cognitive based strategies</text>
<rect x="650.30" y="267.20" width="171.20" height="20.60" fill="#CCCCFF"/>
<rect x="650.30" y="287.80" width="171.20" height="12.90" fill="#FFFF99"/>
<rect x="650.50" y="267.50" width="171.00" height="33.00" fill="none" stroke="#2b2b2b" stroke-width="1"/>
<text x="659.00" y="281.20" font-size="9.0" textLength="111.4" lengthAdjust="spacingAndGlyphs" fill="#1c1c1c" stroke="#1c1c1c" stroke-width="0.14">Peer mediated intervention</text>
<rect x="649" y="352.6" width="170.4" height="2" fill="#FFFF99" opacity="0.5"/>
<rect x="648.50" y="318.80" width="170.90" height="18.00" fill="#CCCCFF"/>
<rect x="648.50" y="336.80" width="170.90" height="15.80" fill="#FFFF99"/>
<rect x="648.50" y="318.50" width="171.00" height="34.00" fill="none" stroke="#2b2b2b" stroke-width="1"/>
<text x="657.20" y="332.40" font-size="9.0" textLength="111.7" lengthAdjust="spacingAndGlyphs" fill="#1c1c1c" stroke="#1c1c1c" stroke-width="0.14">Perspective taking activities</text>
<rect x="649.40" y="361.30" width="172.10" height="12.00" fill="#fff"/>
<rect x="649.40" y="373.30" width="172.10" height="12.70" fill="#FFCCCC"/>
<rect x="649.40" y="386.00" width="172.10" height="20.00" fill="#FFFF99"/>
<rect x="649.50" y="361.50" width="172.00" height="45.00" fill="none" stroke="#2b2b2b" stroke-width="1"/>
<rect x="649.40" y="361.30" width="169.20" height="12.00" fill="#CCCCFF"/>
<rect x="649.50" y="361.50" width="172.00" height="45.00" fill="none" stroke="#2b2b2b" stroke-width="1"/>
<text x="657.40" y="387.90" font-size="9.0" textLength="57.1" lengthAdjust="spacingAndGlyphs" fill="#1c1c1c" stroke="#1c1c1c" stroke-width="0.14">Social support</text>
<rect x="648.50" y="419.00" width="172.20" height="15.00" fill="#fff"/>
<rect x="648.50" y="434.00" width="172.20" height="13.00" fill="#fff"/>
<rect x="648.50" y="447.00" width="172.20" height="10.60" fill="#fff"/>
<rect x="648.50" y="457.60" width="172.20" height="14.20" fill="#CCFFFF"/>
<rect x="648.50" y="471.80" width="172.20" height="3.70" fill="#fff"/>
<rect x="648.50" y="419.50" width="172.00" height="56.00" fill="none" stroke="#2b2b2b" stroke-width="1"/>
<rect x="648.50" y="419.00" width="169.90" height="15.00" fill="#CCCCFF"/>
<rect x="648.50" y="434.00" width="169.90" height="13.00" fill="#FFCCCC"/>
<rect x="648.50" y="447.00" width="167.80" height="10.60" fill="#FFFF99"/>
<rect x="648.50" y="419.50" width="172.00" height="56.00" fill="none" stroke="#2b2b2b" stroke-width="1"/>
<text x="658.00" y="444.40" font-size="9.0" textLength="147.0" lengthAdjust="spacingAndGlyphs" fill="#1c1c1c" stroke="#1c1c1c" stroke-width="0.14">Task and environmental adaptations</text>
<rect x="648.50" y="487.00" width="172.20" height="21.00" fill="#CCCCFF"/>
<rect x="648.50" y="508.00" width="172.20" height="11.50" fill="#FFCCCC"/>
<rect x="648.50" y="519.50" width="172.20" height="13.50" fill="#CCFFFF"/>
<rect x="648.50" y="487.50" width="172.00" height="46.00" fill="none" stroke="#2b2b2b" stroke-width="1"/>
<text x="658.00" y="499.90" font-size="9.0" textLength="126.3" lengthAdjust="spacingAndGlyphs" fill="#1c1c1c" stroke="#1c1c1c" stroke-width="0.14">Incorporate interests and allow</text>
<text x="658.00" y="513.80" font-size="9.0" textLength="139.0" lengthAdjust="spacingAndGlyphs" fill="#1c1c1c" stroke="#1c1c1c" stroke-width="0.14">opportunity for choice and control</text>
<rect x="879.50" y="96.50" width="131.00" height="91.00" fill="#CCCCFF" stroke="#2b2b2b" stroke-width="1"/>
<text x="888.00" y="109.40" font-size="9.0" textLength="95.2" lengthAdjust="spacingAndGlyphs" fill="#1c1c1c" stroke="#1c1c1c" stroke-width="0.14">Students have skills and</text>
<text x="888.00" y="122.50" font-size="9.0" textLength="101.1" lengthAdjust="spacingAndGlyphs" fill="#1c1c1c" stroke="#1c1c1c" stroke-width="0.14">abilities including but not</text>
<text x="888.00" y="135.90" font-size="9.0" textLength="65.7" lengthAdjust="spacingAndGlyphs" fill="#1c1c1c" stroke="#1c1c1c" stroke-width="0.14">limited to, social</text>
<text x="888.00" y="148.90" font-size="9.0" textLength="84.1" lengthAdjust="spacingAndGlyphs" fill="#1c1c1c" stroke="#1c1c1c" stroke-width="0.14">communication, self-</text>
<text x="888.00" y="162.30" font-size="9.0" textLength="98.4" lengthAdjust="spacingAndGlyphs" fill="#1c1c1c" stroke="#1c1c1c" stroke-width="0.14">regulation, empathy and</text>
<text x="888.00" y="175.80" font-size="9.0" textLength="85.9" lengthAdjust="spacingAndGlyphs" fill="#1c1c1c" stroke="#1c1c1c" stroke-width="0.14">executive functioning</text>
<rect x="879.50" y="200.50" width="131.00" height="76.00" fill="#FFCCCC" stroke="#2b2b2b" stroke-width="1"/>
<text x="888.00" y="214.90" font-size="9.0" textLength="76.0" lengthAdjust="spacingAndGlyphs" fill="#1c1c1c" stroke="#1c1c1c" stroke-width="0.14">Students have self-</text>
<text x="888.00" y="228.30" font-size="9.0" textLength="93.5" lengthAdjust="spacingAndGlyphs" fill="#1c1c1c" stroke="#1c1c1c" stroke-width="0.14">determination, positive</text>
<text x="888.00" y="241.30" font-size="9.0" textLength="81.2" lengthAdjust="spacingAndGlyphs" fill="#1c1c1c" stroke="#1c1c1c" stroke-width="0.14">self-esteem and feel</text>
<text x="888.00" y="253.90" font-size="9.0" textLength="100.7" lengthAdjust="spacingAndGlyphs" fill="#1c1c1c" stroke="#1c1c1c" stroke-width="0.14">satisfied and confident in</text>
<text x="888.00" y="267.80" font-size="9.0" textLength="92.9" lengthAdjust="spacingAndGlyphs" fill="#1c1c1c" stroke="#1c1c1c" stroke-width="0.14">their abilities at school.</text>
<rect x="890.50" y="338.50" width="126.00" height="83.00" fill="#FFFF99" stroke="#2b2b2b" stroke-width="1"/>
<text x="898.70" y="352.30" font-size="9.0" textLength="93.7" lengthAdjust="spacingAndGlyphs" fill="#1c1c1c" stroke="#1c1c1c" stroke-width="0.14">Students feel accepted,</text>
<text x="898.70" y="365.80" font-size="9.0" textLength="95.9" lengthAdjust="spacingAndGlyphs" fill="#1c1c1c" stroke="#1c1c1c" stroke-width="0.14">respected, included and</text>
<text x="898.70" y="379.20" font-size="9.0" textLength="101.9" lengthAdjust="spacingAndGlyphs" fill="#1c1c1c" stroke="#1c1c1c" stroke-width="0.14">valued; feel supported by</text>
<text x="898.70" y="391.80" font-size="9.0" textLength="100.0" lengthAdjust="spacingAndGlyphs" fill="#1c1c1c" stroke="#1c1c1c" stroke-width="0.14">their peers and teachers;</text>
<text x="898.70" y="405.20" font-size="9.0" textLength="53.4" lengthAdjust="spacingAndGlyphs" fill="#1c1c1c" stroke="#1c1c1c" stroke-width="0.14">and feel safe.</text>
<rect x="891.50" y="463.50" width="125.00" height="64.00" fill="#CCFFFF" stroke="#2b2b2b" stroke-width="1"/>
<text x="899.60" y="477.80" font-size="9.0" textLength="104.7" lengthAdjust="spacingAndGlyphs" fill="#1c1c1c" stroke="#1c1c1c" stroke-width="0.14">Students have interests or</text>
<text x="899.60" y="491.20" font-size="9.0" textLength="74.1" lengthAdjust="spacingAndGlyphs" fill="#1c1c1c" stroke="#1c1c1c" stroke-width="0.14">activities that hold</text>
<text x="899.60" y="504.70" font-size="9.0" textLength="105.5" lengthAdjust="spacingAndGlyphs" fill="#1c1c1c" stroke="#1c1c1c" stroke-width="0.14">meaning or are of value to</text>
<text x="899.60" y="517.70" font-size="9.0" textLength="59.4" lengthAdjust="spacingAndGlyphs" fill="#1c1c1c" stroke="#1c1c1c" stroke-width="0.14">them at school</text>
<rect x="630.50" y="541.50" width="392.00" height="33.00" fill="#fff" stroke="#444" stroke-width="1" stroke-dasharray="2 2"/>
<text x="641.60" y="555.68" font-size="8.6" textLength="338.2" lengthAdjust="spacingAndGlyphs" fill="#1c1c1c" stroke="#1c1c1c" stroke-width="0.14">Note. The MSPA acknowledges the impact environmental factors (e.g., peer and teacher</text>
<text x="641.60" y="568.08" font-size="8.6" textLength="368.0" lengthAdjust="spacingAndGlyphs" fill="#1c1c1c" stroke="#1c1c1c" stroke-width="0.14">understanding, awareness and acceptance of autism) can have on students’ school participation</text>
<polygon points="4,582 381,582 381,571.4 401,593.5 381,614.5 381,605.4 4,605.4" fill="#bfbfbf" stroke="#8f8f8f" stroke-width="0.8"/>
<rect x="4" y="582" width="7" height="23.4" fill="#a8a8a8"/>
<text x="61.70" y="596.40" font-size="9.0" textLength="275.9" lengthAdjust="spacingAndGlyphs" fill="#111" stroke="#111" stroke-width="0.32">School participation barriers resulting from characteristics of autism</text>
<polygon points="1015.8,583 622.5,583 622.5,573 601.7,593.8 622.5,614.7 622.5,605.5 1015.8,605.5" fill="#bfbfbf" stroke="#8f8f8f" stroke-width="0.8"/>
<rect x="1009" y="583" width="6.8" height="22.5" fill="#a8a8a8"/>
<text x="633.00" y="596.60" font-size="9.0" textLength="376.1" lengthAdjust="spacingAndGlyphs" fill="#111" stroke="#111" stroke-width="0.14">School participation enablers and intervention techniques used to implement these enablers</text>
</g>
</svg>
</body>
</html>
